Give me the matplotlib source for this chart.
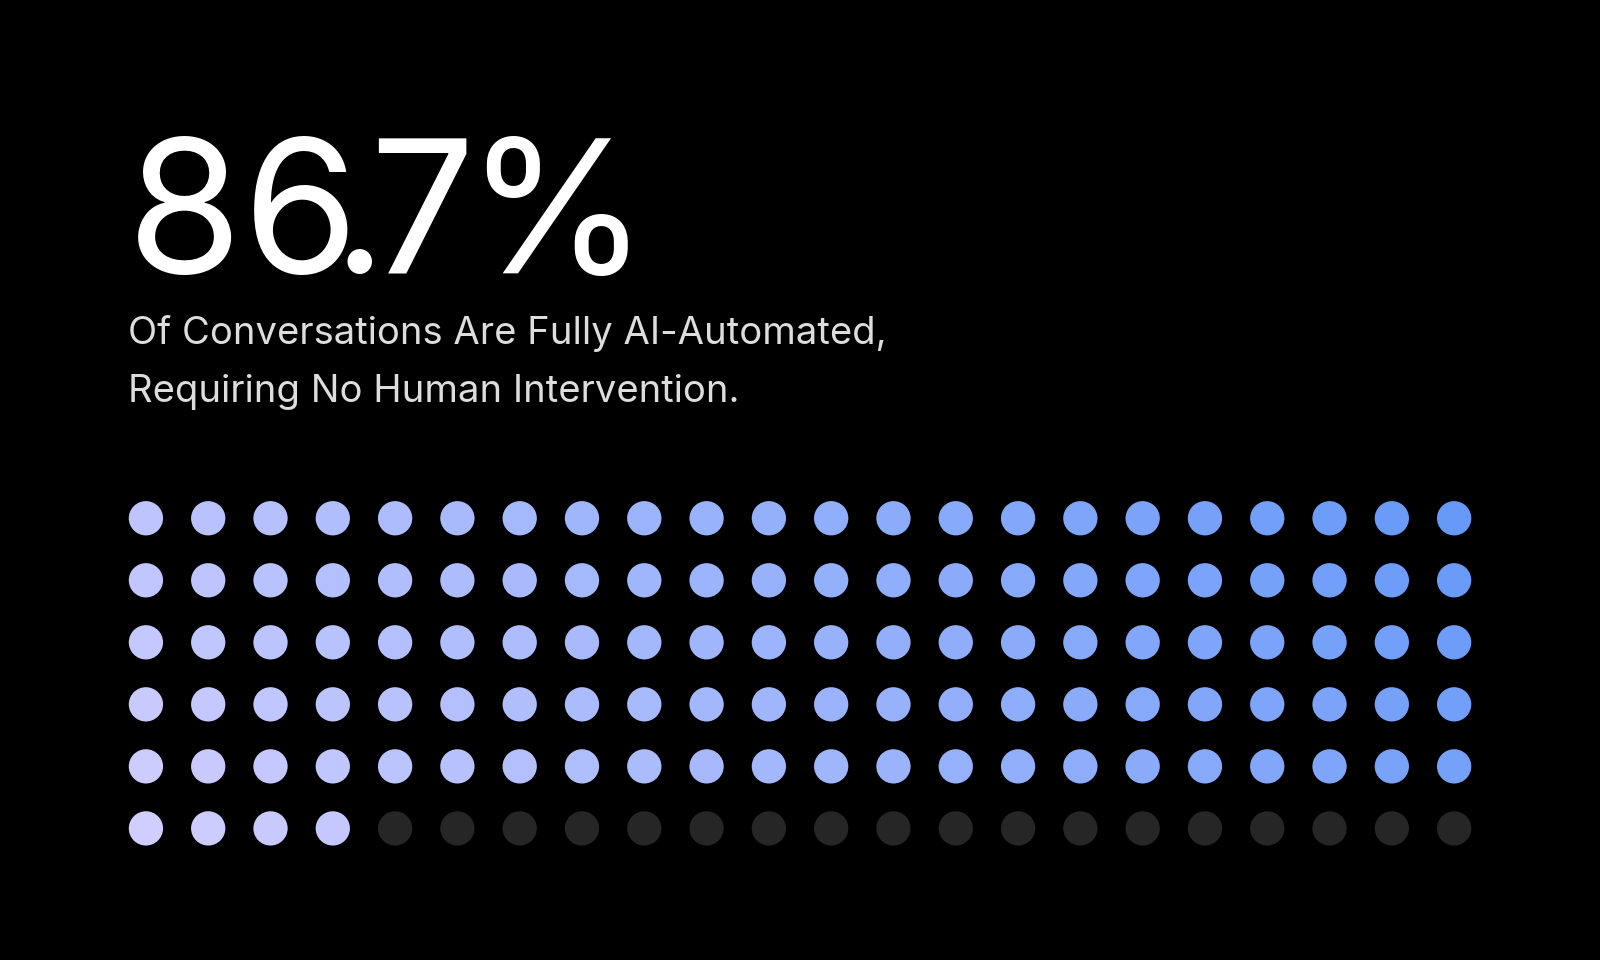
import matplotlib
matplotlib.use("Agg")
import matplotlib.pyplot as plt
import numpy as np
from matplotlib.colors import to_rgb

headline = "86.7%"
subtitle = ["Of Conversations Are Fully AI-Automated,", "Requiring No Human Intervention."]
n_cols = 22
n_rows = 6
filled_count = 114

fig = plt.figure(figsize=(16, 9.6), dpi=100, facecolor="black")
ax = fig.add_axes([0, 0, 1, 1])
ax.set_facecolor("black")
sp = 61.05
ax.set_xlim(-143 / sp, (1568 - 143) / sp)
ax.set_ylim((941 - 508) / 60.8, -508 / 60.8)
ax.axis("off")

c0 = np.array(to_rgb("#d0ceff"))
c1 = np.array(to_rgb("#6699f8"))
xs, ys, cols = [], [], []
for r in range(n_rows):
    for c in range(n_cols):
        k = r * n_cols + c
        xs.append(c)
        ys.append(r)
        if k < filled_count:
            t = 0.82 * c / (n_cols - 1) + 0.18 * (n_rows - 1 - r) / (n_rows - 1)
            cols.append(tuple(c0 + (c1 - c0) * t))
        else:
            cols.append("#262626")
ax.scatter(xs, ys, s=610, c=cols, edgecolors="none")

# headline drawn char by char for tight tracking
char_x = [124, 238, 326, 362, 456]
for ch, x in zip(headline, char_x):
    fig.text(x / 1568, 1 - 268 / 941, ch, color="white", fontsize=134,
             family="Inter", fontweight="normal", va="baseline", ha="left")
for i, line in enumerate(subtitle):
    fig.text(125 / 1568, 1 - (337 + 57 * i) / 941, line, color="#dddddd",
             fontsize=27.5, family="Inter", va="baseline", ha="left")

fig.savefig("out.png", facecolor="black")
